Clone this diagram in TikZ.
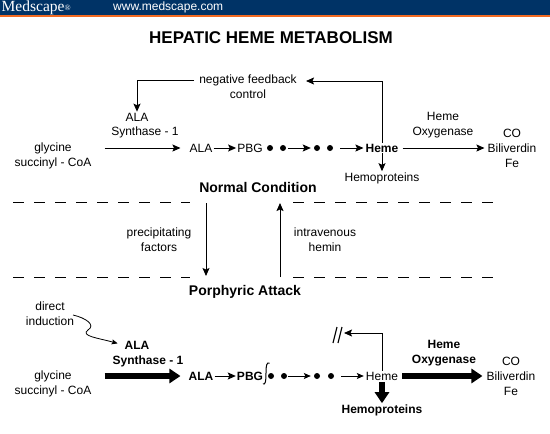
\documentclass[tikz,border=0pt]{standalone}
\usepackage{fontspec}
\setmainfont{Liberation Sans}
\newfontfamily\medserif{Liberation Serif}
\usetikzlibrary{arrows.meta}
\definecolor{medblue}{HTML}{003366}
\definecolor{medorange}{HTML}{F26A21}
\begin{document}
\begin{tikzpicture}[x=1pt,y=-1pt,
  txt/.style={font=\fontsize{12}{15}\selectfont, align=center, inner sep=1pt},
  btxt/.style={font=\fontsize{12}{15}\selectfont\bfseries, align=center, inner sep=1pt},
  dotnode/.style={circle, fill=black, inner sep=0pt, minimum size=6pt},
  arr/.style={-{Stealth[length=8pt,width=7pt,inset=1.5pt]}, line width=1pt},
  smallarr/.style={-{Stealth[length=7pt,width=6pt,inset=1.5pt]}, line width=0.9pt},
  bigarr/.style={-{Triangle[length=11pt,width=14pt]}, line width=5.5pt},
  dashline/.style={dash pattern=on 11pt off 10pt, line width=1pt}]
\useasboundingbox (0,0) rectangle (550,434);
\fill[white] (0,0) rectangle (550,434);
% header
\fill[medblue] (0,0) rectangle (550,14.5);
\fill[medorange] (0,14.5) rectangle (550,17);
\node[anchor=west, text=white, inner sep=0pt, font=\medserif\fontsize{15.5}{15}\selectfont] (logo) at (1.5,7.5) {Medscape\raisebox{0.5pt}{\fontsize{8}{8}\selectfont\textregistered}};
\node[anchor=west, text=white, inner sep=0pt, font=\fontsize{12}{12}\selectfont] (url) at (113,7.5) {www.medscape.com};
% title
\node[font=\fontsize{17}{17}\selectfont\bfseries, inner sep=0pt] (title) at (271,38) {HEPATIC HEME METABOLISM};

% ---------- normal condition ----------
\node[txt] (nfc) at (248,87) {negative feedback\\control};
\node[txt] (alaA) at (137,117) {ALA};
\node[txt] (alaS) at (145,132) {Synthase - 1};
\node[txt] (gly) at (53,156) {glycine\\succinyl - CoA};
\node[txt] (ala) at (201,148) {ALA};
\node[txt] (pbg) at (250,148) {PBG};
\node[dotnode] (d1) at (270,148) {};
\node[dotnode] (d2) at (283,148) {};
\node[dotnode] (d3) at (317,148) {};
\node[dotnode] (d4) at (330,148) {};
\node[btxt] (heme) at (382,148) {Heme};
\node[txt] (hp) at (382,178) {Hemoproteins};
\node[txt] (ho) at (443,125) {Heme\\Oxygenase};
\node[txt] (prod) at (512,148) {CO\\Biliverdin\\Fe};
\coordinate (fbR) at (306,81);
\coordinate (fbL) at (194,80);

\draw[arr] (heme.north) |- (fbR);
\draw[arr] (fbL) -| (alaA.north);
\draw[arr, shorten <=12pt, shorten >=8pt] (gly.east |- ala.west) -- (ala.west);
\draw[arr] (ala.east) -- (pbg.west);
\draw[arr, shorten <=2pt, shorten >=3pt] (d2.east) -- (d3.west);
\draw[arr, shorten <=7pt, shorten >=1pt] (d4.east) -- (heme.west);
\draw[arr] (heme.south) -- (hp.north);
\draw[arr, shorten <=3pt, shorten >=2pt] (heme.east) -- (prod.west);

\node[font=\fontsize{14}{14}\selectfont\bfseries, inner sep=1pt] (nc) at (258,187) {Normal Condition};

% dashed separators
\draw[dashline] (13,202) -- (190,202);
\draw[dashline] (293,202) -- (495,202);
\draw[dashline] (13,277) -- (190,277);
\draw[dashline] (293,277) -- (495,277);

\coordinate (pfT) at (206,203);
\coordinate (pfB) at (206,276);
\coordinate (ivB) at (280,277);
\coordinate (ivT) at (280,203);
\draw[arr] (pfT) -- (pfB);
\draw[arr] (ivB) -- (ivT);
\node[txt] (pf) at (159,240) {precipitating\\factors};
\node[txt] (iv) at (325,240) {intravenous\\hemin};

\node[font=\fontsize{14}{14}\selectfont\bfseries, inner sep=1pt] (pa) at (245,292) {Porphyric Attack};

% ---------- porphyric attack ----------
\node[txt] (di) at (50,314) {direct\\induction};
\node[btxt] (balaA) at (137,345) {ALA};
\node[btxt] (balaS) at (148,361) {Synthase - 1};
\node[txt] (bgly) at (53,384) {glycine\\succinyl - CoA};
\node[btxt] (bala) at (201,376) {ALA};
\node[btxt] (bpbg) at (250,376) {PBG};
\node[dotnode] (e1) at (271,376) {};
\node[dotnode] (e2) at (284,376) {};
\node[dotnode] (e3) at (317,376) {};
\node[dotnode] (e4) at (331,376) {};
\node[txt] (bheme) at (382,376) {Heme};
\node[btxt] (bhp) at (382,410) {Hemoproteins};
\node[btxt] (bho) at (444,353) {Heme\\Oxygenase};
\node[txt] (bprod) at (511,376) {CO\\Biliverdin\\Fe};
\coordinate (bfb) at (344,333);
\coordinate (diS) at (73,315);

\draw[line width=0.8pt, shorten >=6pt, -{Stealth[length=6pt,width=5pt,inset=1pt]}] (diS) .. controls (86,318) and (96,325) .. (88,330) .. controls (80,336) and (98,338) .. (balaA.west);
\draw[bigarr, shorten <=12pt, shorten >=7pt] (bgly.east |- bala.west) -- (bala.west);
\draw[arr] (bala.east) -- (bpbg.west);
\draw[line width=1pt] (263,384) .. controls (265.5,385) and (266,381) .. (266,373) .. controls (266,366) and (266.5,362) .. (269.5,363);
\draw[smallarr, shorten <=1pt, shorten >=3pt] (e2.east) -- (e3.west);
\draw[smallarr, shorten <=7pt, shorten >=1pt] (e4.east) -- (bheme.west);
\draw[arr] (bheme.north) |- (bfb);
\draw[line width=1.2pt] (333,343) -- (337,327) (338,343) -- (342,327);
\draw[bigarr, shorten <=1pt] (bheme.south) -- (bhp.north);
\draw[bigarr, shorten <=3pt, shorten >=3pt] (bheme.east) -- (bprod.west);
\end{tikzpicture}
\end{document}
